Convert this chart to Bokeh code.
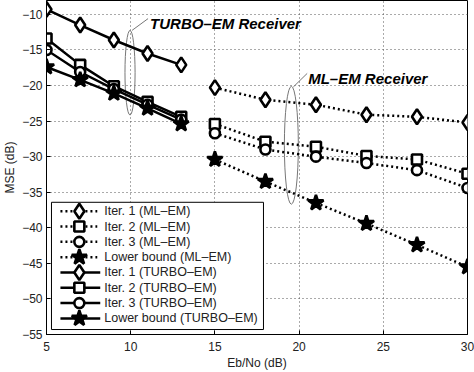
from bokeh.plotting import figure
from bokeh.models import Range1d, Label, FixedTicker
from bokeh.core.properties import value
from bokeh.embed import file_html
from bokeh.resources import INLINE

# ---- data ----
snr_turbo = [5, 7, 9, 11, 13]
turbo_iter1 = [-9.3, -11.5, -13.6, -15.5, -17.1]
turbo_iter2 = [-13.4, -17.1, -20.1, -22.3, -24.4]
turbo_iter3 = [-15.0, -18.1, -20.5, -22.7, -24.8]
turbo_lb = [-17.4, -19.2, -21.1, -23.2, -25.4]

snr_ml = [15, 18, 21, 24, 27, 30]
ml_iter1 = [-20.3, -22.0, -22.7, -24.1, -24.4, -25.2]
ml_iter2 = [-25.4, -27.9, -28.6, -29.9, -30.4, -32.4]
ml_iter3 = [-26.7, -29.0, -30.0, -30.9, -31.9, -34.4]
ml_lb = [-30.4, -33.5, -36.5, -39.4, -42.4, -45.5]

x_ticks = [5, 10, 15, 20, 25, 30]
y_ticks = [-55, -50, -45, -40, -35, -30, -25, -20, -15, -10]

labels = ["Iter. 1 (ML–EM)", "Iter. 2 (ML–EM)", "Iter. 3 (ML–EM)", "Lower bound (ML–EM)",
          "Iter. 1 (TURBO–EM)", "Iter. 2 (TURBO–EM)", "Iter. 3 (TURBO–EM)",
          "Lower bound (TURBO–EM)"]

FONT = "Liberation Sans"
X0, X1 = 5, 30
Y0, Y1 = -55, -8.05
FW, FH = 423, 336   # frame size in px
LEFT = 44

def X(px):  # page pixel -> data x
    return X0 + (px - LEFT) * (X1 - X0) / FW

def Y(py):
    return Y1 - py * (Y1 - Y0) / FH

p = figure(width=474, height=372, output_backend="svg", toolbar_location=None,
           x_range=Range1d(X0, X1), y_range=Range1d(Y0, Y1),
           min_border_top=0, min_border_right=7, min_border_left=0, min_border_bottom=36)
p.outline_line_color = "black"
p.outline_line_width = 1
p.background_fill_color = "white"
p.border_fill_color = "white"

for ax in (p.xaxis[0], p.yaxis[0]):
    ax.major_tick_in = 4
    ax.major_tick_out = 0
    ax.minor_tick_in = 0
    ax.minor_tick_out = 0
    ax.axis_line_color = "black"
    ax.major_label_text_font = FONT
    ax.major_label_text_font_size = "12px"
    ax.major_label_text_color = "#222222"
    ax.axis_label_text_font = FONT
    ax.axis_label_text_font_size = "12px"
    ax.axis_label_text_font_style = "normal"
    ax.axis_label_text_color = "#222222"
    ax.axis_label_standoff = 2
p.xaxis.major_label_standoff = 7
p.yaxis.major_label_standoff = 4

p.xaxis.ticker = FixedTicker(ticks=x_ticks)
p.yaxis.ticker = FixedTicker(ticks=y_ticks)
p.xaxis.axis_label = "Eb/No (dB)"
p.yaxis.axis_label = "MSE (dB)"

p.grid.grid_line_color = "#555555"
p.grid.grid_line_dash = "1 3"
p.grid.grid_line_width = 1
p.xgrid.ticker = FixedTicker(ticks=x_ticks)
p.ygrid.ticker = FixedTicker(ticks=y_ticks)

# annotations: ellipses & labels
p.ellipse(x=[9.96], y=[-18.2], width=0.6, height=11.9, fill_color=None,
          line_color="#777777", line_width=1)
p.ellipse(x=[19.54], y=[-28.4], width=0.83, height=16.6, fill_color=None,
          line_color="#777777", line_width=1)
p.line([10.08, 11.03], [-12.25, -10.6], line_color="#777777", line_width=1)
p.line([19.66, 20.48], [-20.2, -18.3], line_color="#777777", line_width=1)
p.add_layout(Label(x=11.15, y=-11.26, text="TURBO–EM Receiver", text_font=FONT,
                   text_font_size="15px", text_font_style="bold italic",
                   text_baseline="middle", text_color="black"))
p.add_layout(Label(x=20.54, y=-18.95, text="ML–EM Receiver", text_font=FONT,
                   text_font_size="15px", text_font_style="bold italic",
                   text_baseline="middle", text_color="black"))

LW = 2.5
DOT = "2 3"
MLW = 2.6
MSIZE = {"diamond": 15, "square": 10, "circle": 10, "star": 16}

def series(xs, ys, marker, dashed, fill="white"):
    kw = dict(line_color="black", line_width=LW)
    if dashed:
        kw["line_dash"] = DOT
    p.line(xs, ys, **kw)
    p.scatter(xs, ys, marker=marker, size=MSIZE[marker], fill_color=fill,
              line_color="black", line_width=MLW)

specs = [
    (snr_ml, ml_iter1, "diamond", True, "white"),
    (snr_ml, ml_iter2, "square", True, "white"),
    (snr_ml, ml_iter3, "circle", True, "white"),
    (snr_ml, ml_lb, "star", True, "black"),
    (snr_turbo, turbo_iter1, "diamond", False, "white"),
    (snr_turbo, turbo_iter2, "square", False, "white"),
    (snr_turbo, turbo_iter3, "circle", False, "white"),
    (snr_turbo, turbo_lb, "star", False, "black"),
]
for xs, ys, m, d, f in specs:
    series(xs, ys, m, d, f)

# ---- legend (drawn manually so markers keep full size) ----
p.quad(left=[X(49)], right=[X(262)], top=[Y(203)], bottom=[Y(331)],
       fill_color="white", line_color="black", line_width=1)
row0, drow = 212, 15.4
for i, ((xs, ys, m, d, f), lab) in enumerate(zip(specs, labels)):
    yc = Y(row0 + i * drow)
    kw = dict(line_color="black", line_width=LW)
    if d:
        kw["line_dash"] = DOT
        p.line([X(58), X(95)], [yc, yc], **kw)
    else:
        p.line([X(58), X(98)], [yc, yc], **kw)
    p.scatter([X(77)], [yc], marker=m, size=MSIZE[m], fill_color=f,
              line_color="black", line_width=MLW)
    p.text([X(102)], [yc], text=[lab], text_font=value(FONT), text_font_size="12.5px",
           text_baseline="middle", text_color="#222222")

open("out.html", "w").write(file_html(p, INLINE))
